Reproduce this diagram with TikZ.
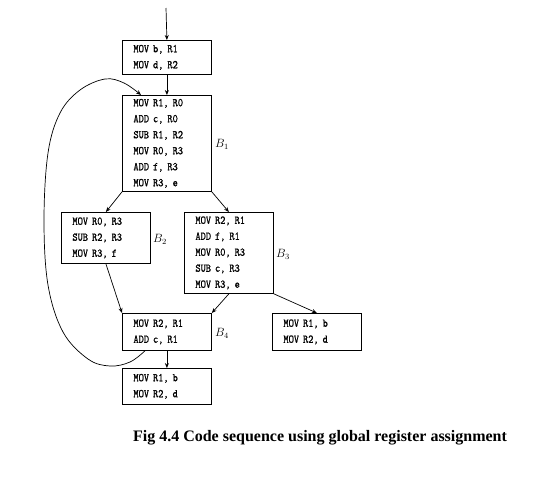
\documentclass[tikz,border=0pt]{standalone}
\usepackage{fontspec}
\newfontfamily\capfont{Liberation Serif}
\newfontfamily\codefont{Latin Modern Mono}[FakeBold=0.8,FakeStretch=0.86]
\usetikzlibrary{calc,arrows.meta}
\begin{document}
\begin{tikzpicture}[x=1pt,y=-1pt,
  blk/.style={draw,line width=0.8pt,rectangle,anchor=north west,minimum width=89pt,
    inner xsep=11pt,inner ysep=0pt,text width=67pt,align=left,
    font=\codefont\fontsize{11.8}{16}\selectfont},
  lbl/.style={font=\fontsize{12}{14}\selectfont},
  arr/.style={-{Stealth[length=5pt,width=4pt]},line width=0.7pt}]
\useasboundingbox[fill=white] (0,0) rectangle (537,477);
\coordinate (entry) at (166,8);
\node[blk,minimum height=34pt] (A) at (122,40) {MOV b, R1\\MOV d, R2};
\node[blk,minimum height=96pt] (B1) at (122,95) {MOV R1, R0\\ADD c, R0\\SUB R1, R2\\MOV R0, R3\\ADD f, R3\\MOV R3, e};
\node[blk,minimum height=51pt] (B2) at (61,212) {MOV R0, R3\\SUB R2, R3\\MOV R3, f};
\node[blk,minimum height=81pt] (B3) at (184,212) {MOV R2, R1\\ADD f, R1\\MOV R0, R3\\SUB c, R3\\MOV R3, e};
\node[blk,minimum height=37pt] (B4) at (122,313) {MOV R2, R1\\ADD c, R1};
\node[blk,minimum height=36pt] (C) at (122,368) {MOV R1, b\\MOV R2, d};
\node[blk,minimum height=37pt] (D) at (272,313) {MOV R1, b\\MOV R2, d};
\node[lbl] (L1) at (222,144) {$B_1$};
\node[lbl] (L2) at (160,239) {$B_2$};
\node[lbl] (L3) at (283,254) {$B_3$};
\node[lbl] (L4) at (222,333) {$B_4$};
\node[font=\capfont\bfseries\fontsize{16}{18}\selectfont] (cap) at (320,438) {Fig 4.4 Code sequence using global register assignment};
\draw[arr] (entry) -- (A.north);
\draw[arr] (A.south) -- (B1.north);
\draw[arr] (B1.south west) -- (B2.north);
\draw[arr] (B1.south east) -- (B3.north);
\draw[arr] (B2.south) -- (B4.north west);
\draw[arr] (B3.south) -- (B4.north east);
\draw[arr] (B3.south east) -- (D.north);
\draw[arr] (B4.south) -- (C.north);
\coordinate (ls) at ($(B4.south west)+(23,0)$);
\coordinate (le) at ($(B1.north west)+(19,0)$);
\draw[arr] plot[smooth,tension=0.6] coordinates {(ls) (130,362) (110,366) (88,359) (63,332) (48,285) (44,220) (48,153) (60,113) (80,90) (105,79) (124,83) (le)};
\end{tikzpicture}
\end{document}
